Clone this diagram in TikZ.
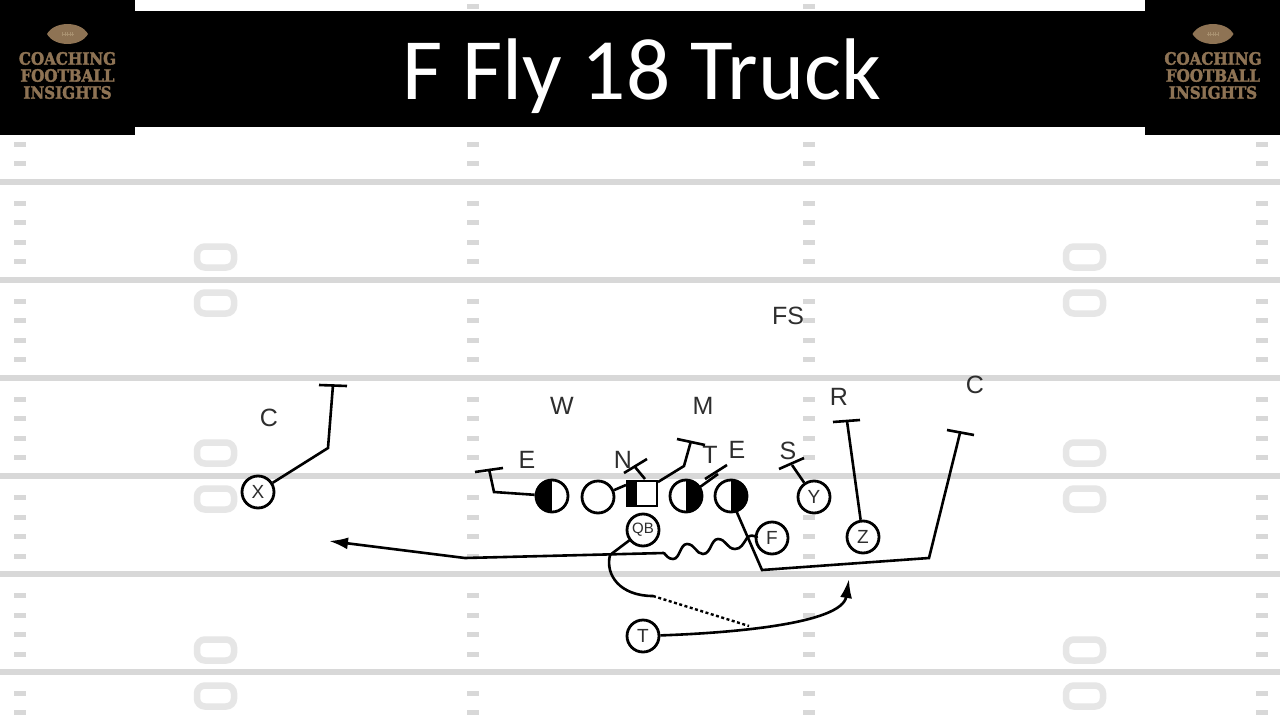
\documentclass[tikz,border=0pt]{standalone}
\usepackage{fontspec}
\setmainfont{Liberation Sans}
\newfontfamily\titlefont{Carlito}
\newfontfamily\logofont[FakeStretch=0.89,BoldFeatures={FakeBold=2.2}]{DejaVu Serif}
\definecolor{brownlogo}{HTML}{8E7354}
\definecolor{lacebrown}{HTML}{A8906F}
\definecolor{fieldgrey}{HTML}{D8D8D8}
\definecolor{numgrey}{HTML}{E6E6E6}
\definecolor{txtgrey}{HTML}{2E2E2E}
\usetikzlibrary{arrows.meta}
\tikzset{
  player/.style={circle,draw=black,fill=white,line width=2.8pt,minimum size=32pt,inner sep=0pt,text=txtgrey,font=\fontsize{19}{19}\selectfont},
  halfleft/.style={player,path picture={\fill[black] ([xshift=-20pt,yshift=-20pt]path picture bounding box.center) rectangle ([yshift=20pt]path picture bounding box.center);}},
  halfright/.style={player,path picture={\fill[black] ([yshift=-20pt]path picture bounding box.center) rectangle ([xshift=20pt,yshift=20pt]path picture bounding box.center);}},
  route/.style={draw=black,line width=2.6pt,line join=miter},
  rcap/.style={draw=black,line width=2.6pt},
  deflabel/.style={text=txtgrey,font=\fontsize{25}{25}\selectfont,inner sep=0pt},
  logotext/.style={text=brownlogo,font=\logofont\bfseries\fontsize{17}{17}\selectfont,align=center,inner sep=0pt},
  numbox/.style={draw=numgrey,line width=6.5pt,rounded corners=8pt,fill=white},
  arrowtip/.style={-{Latex[length=19pt,width=12pt]}}
}
\begin{document}
\begin{tikzpicture}[x=1pt,y=-1pt]
\useasboundingbox (0,0) rectangle (1280,720);
\fill[white] (0,0) rectangle (1280,720);
% yard lines
\foreach \y in {182,280,378,476,574,672}
  \fill[fieldgrey] (0,\y-3) rectangle (1280,\y+3);
% hash marks
\foreach \x in {13.5,467,803,1256}
  \foreach \y in {144,163,203,222,242,261,301,320,340,359,399,418,438,457,497,517,536,556,595,615,634,654,693,712}
    \fill[fieldgrey] (\x,\y-2.5) rectangle (\x+12,\y+2.5);
\foreach \x in {467,803}
  \fill[fieldgrey] (\x,3.5) rectangle (\x+12,8.5);
% numbers
\foreach \x in {197,1066}
  \foreach \y in {246.5,292.5,442.5,488.5,639.5,685.5}
    \draw[numbox] (\x,\y) rectangle (\x+37,\y+21);
% banner
\fill[black] (135,11) rectangle (1145,127);
\fill[black] (0,0) rectangle (135,135);
\fill[black] (1145,0) rectangle (1280,135);
\node[anchor=base,text=white,font=\titlefont\fontsize{87.5}{88}\selectfont,inner sep=0pt] (title) at (641.5,99) {F Fly 18 Truck};
% logos
\foreach \cx/\nm in {67.5/logoL,1213/logoR}{
  \begin{scope}[shift={(\cx,34)}]
    \fill[brownlogo] (-20.5,0) .. controls (-13,-13.3) and (13,-13.3) .. (20.5,0) .. controls (13,13.3) and (-13,13.3) .. (-20.5,0) -- cycle;
    \foreach \lx in {-5,-2.5,0,2.5,5}
      \draw[lacebrown,line width=0.8pt] (\lx,-2) -- (\lx,2);
    \draw[lacebrown,line width=0.8pt] (-6,0) -- (6,0);
  \end{scope}
  \node[logotext] (\nm) at (\cx,75.5) {COACHING\\FOOTBALL\\INSIGHTS};
}
% players
\node[player] (X) at (258,492) {X};
\node[halfleft] (LE) at (552,496) {};
\node[player] (LT) at (598,497) {};
\node[draw=black,line width=2.8pt,fill=white,minimum width=30pt,minimum height=25pt,inner sep=0pt,
  path picture={\fill[black] ([xshift=-20pt,yshift=-20pt]path picture bounding box.center) rectangle ([xshift=-5pt,yshift=20pt]path picture bounding box.center);}] (C) at (642,493.5) {};
\node[halfright] (RG) at (686,496) {};
\node[halfright] (RE) at (731,496) {};
\node[player,font=\fontsize{15}{15}\selectfont] (QB) at (643,530) {QB};
\node[player] (F) at (772,538) {F};
\node[player] (Y) at (814,497) {Y};
\node[player] (Z) at (863,537) {Z};
\node[player] (T) at (643,636) {T};
% labels
\node[deflabel] (lFS) at (788,316) {FS};
\node[deflabel] (lW) at (562,406) {W};
\node[deflabel] (lM) at (703,406) {M};
\node[deflabel] (lCa) at (269,418) {C};
\node[deflabel] (lR) at (839,397) {R};
\node[deflabel] (lCb) at (975,385) {C};
\node[deflabel] (lEa) at (527,460) {E};
\node[deflabel] (lN) at (623,460) {N};
\node[deflabel] (lT) at (710,455) {T};
\node[deflabel] (lEb) at (737,450) {E};
\node[deflabel] (lS) at (788,451) {S};
% waypoints
\coordinate (xa) at (328,448); \coordinate (xb) at (333,385);
\coordinate (xc1) at (319,385); \coordinate (xc2) at (347,386);
\coordinate (lea) at (494,492); \coordinate (leb) at (489,469);
\coordinate (lec1) at (475,472); \coordinate (lec2) at (503,468);
\coordinate (lta) at (626,485);
\coordinate (ca) at (658,482); \coordinate (cb) at (684,466); \coordinate (cc) at (691,441);
\coordinate (cc1) at (677,439); \coordinate (cc2) at (705,445);
\coordinate (na) at (645,479); \coordinate (nb) at (635,467);
\coordinate (nc1) at (624,473); \coordinate (nc2) at (647,459);
\coordinate (ga) at (700,487); \coordinate (gb) at (718,474);
\coordinate (gc1) at (705,479); \coordinate (gc2) at (727,465);
\coordinate (yb) at (792,465);
\coordinate (yc1) at (779,469); \coordinate (yc2) at (804,458);
\coordinate (zb) at (847,421);
\coordinate (zc1) at (833,422); \coordinate (zc2) at (860,420);
\coordinate (ra) at (735,508); \coordinate (rb) at (762,570); \coordinate (rc) at (929,558); \coordinate (rd) at (960,433);
\coordinate (rc1) at (947,430); \coordinate (rc2) at (974,435);
\coordinate (qa) at (610,555); \coordinate (qb) at (653,596); \coordinate (qc) at (749,626);
\coordinate (fa) at (757,537); \coordinate (fb) at (664,553); \coordinate (fc) at (465,558); \coordinate (fd) at (329,541);
\coordinate (ta) at (849,579);
% routes
\draw[route] (X) -- (xa) -- (xb);
\draw[rcap] (xc1) -- (xc2);
\draw[route] (LE) -- (lea) -- (leb);
\draw[rcap] (lec1) -- (lec2);
\draw[route] (LT) -- (lta);
\draw[route] (ca) -- (cb) -- (cc);
\draw[rcap] (cc1) -- (cc2);
\draw[route] (na) -- (nb);
\draw[rcap] (nc1) -- (nc2);
\draw[route] (ga) -- (gb);
\draw[rcap] (gc1) -- (gc2);
\draw[route] (Y) -- (yb);
\draw[rcap] (yc1) -- (yc2);
\draw[route] (Z) -- (zb);
\draw[rcap] (zc1) -- (zc2);
\draw[route] (ra) -- (rb) -- (rc) -- (rd);
\draw[rcap] (rc1) -- (rc2);
\draw[route,line cap=round] (QB) -- (qa) .. controls (605,575) and (620,596) .. (qb);
\draw[draw=black,line width=2.4pt,dash pattern=on 3pt off 2.5pt] (qb) -- (qc);
\draw[route,line cap=round] (fa) .. controls (752,535) and (750,535) .. (747,538)
  .. controls (743,544) and (741,549) .. (735,549)
  .. controls (727,549) and (726,539) .. (718,539)
  .. controls (711,539) and (711,554) .. (703,554)
  .. controls (696,554) and (695,544) .. (687,544)
  .. controls (680,544) and (680,559) .. (673,559)
  .. controls (668,559) and (666,555) .. (fb);
\draw[route,arrowtip] (fb) -- (fc) -- (fd);
\draw[route,arrowtip] (T) .. controls (730,633) and (842,624) .. (ta);
\end{tikzpicture}
\end{document}
